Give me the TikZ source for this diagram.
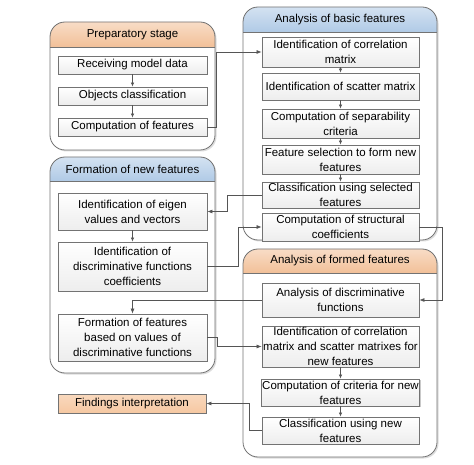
\documentclass[tikz,border=0pt]{standalone}
\usepackage{fontspec}
\setmainfont{Liberation Sans}
\usetikzlibrary{arrows.meta,shadows}

\definecolor{hdrorange}{RGB}{242,192,152}
\definecolor{hdrblue}{RGB}{176,202,230}
\definecolor{findfill}{RGB}{246,200,162}
\definecolor{edgecol}{RGB}{115,115,115}
\definecolor{conncol}{RGB}{85,85,85}

\tikzset{
 txt/.style={font=\fontsize{11.5}{15}\selectfont},
 box/.style={draw=edgecol, line width=0.8pt, top color=white, bottom color=gray!14,
   drop shadow={shadow xshift=1.2pt, shadow yshift=-1.2pt, fill=gray!70, opacity=0.6},
   align=center, inner sep=1pt, txt},
 lbox/.style={box, minimum width=149pt},
 rbox/.style={box, minimum width=157pt},
 hdr/.style={txt, inner sep=0pt},
 frame/.style={draw=edgecol, line width=0.8pt, rounded corners=15pt},
 inarrow/.style={draw=conncol, line width=0.7pt, -{Latex[length=4pt,width=3.5pt]}},
 conn/.style={draw=conncol, line width=0.7pt, -{Latex[length=5pt,width=4pt]}},
}

\newcommand{\stagebox}[6]{%
 \fill[gray!60, opacity=0.45, rounded corners=15pt] ([xshift=1.5pt,yshift=-1.5pt]#1,#2) rectangle ([xshift=1.5pt,yshift=-1.5pt]#3,#4);
 \fill[white, rounded corners=15pt] (#1,#2) rectangle (#3,#4);
 \begin{scope}
  \clip[rounded corners=15pt] (#1,#2) rectangle (#3,#4);
  \fill[top color=#6!55!white, bottom color=#6] (#1,#2) rectangle (#3,#5);
 \end{scope}
 \draw[frame] (#1,#2) rectangle (#3,#4);
 \draw[draw=edgecol, line width=0.8pt] (#1,#5) -- (#3,#5);
}

\begin{document}
\begin{tikzpicture}[x=1pt,y=-1pt]
\useasboundingbox (0,0) rectangle (474,465);

% containers
\stagebox{50}{22}{215}{150}{47}{hdrorange}
\stagebox{243}{7}{437}{240}{32}{hdrblue}
\stagebox{50}{157}{215}{373}{181}{hdrblue}
\stagebox{243}{249}{437}{457}{273}{hdrorange}

% headers
\node[hdr] (hPrep) at (132.5,35) {Preparatory stage};
\node[hdr] (hBasic) at (340,20) {Analysis of basic features};
\node[hdr] (hForm) at (132.5,169) {Formation of new features};
\node[hdr] (hFormed) at (340,261) {Analysis of formed features};

% preparatory stage
\node[lbox, minimum height=18pt] (p1) at (132.5,65) {Receiving model data};
\node[lbox, minimum height=18pt] (p2) at (132.5,96) {Objects classification};
\node[lbox, minimum height=18pt] (p3) at (132.5,127) {Computation of features};

% analysis of basic features
\node[rbox, minimum height=30pt] (a1) at (340.5,52) {Identification of correlation\\matrix};
\node[rbox, minimum height=27pt] (a2) at (340.5,86.5) {Identification of scatter matrix};
\node[rbox, minimum height=29pt] (a3) at (340.5,123.5) {Computation of separability\\criteria};
\node[rbox, minimum height=29pt] (a4) at (340.5,159.5) {Feature selection to form new\\features};
\node[rbox, minimum height=26pt] (a5) at (340.5,195) {Classification using selected\\features};
\node[rbox, minimum height=28pt] (a6) at (340.5,227) {Computation of structural\\coefficients};

% formation of new features
\node[lbox, minimum height=37pt] (f1) at (132.5,211.5) {Identification of eigen\\values and vectors};
\node[lbox, minimum height=49pt] (f2) at (132.5,266.5) {Identification of\\discriminative functions\\coefficients};
\node[lbox, minimum height=47pt] (f3) at (132.5,337.5) {Formation of features\\based on values of\\discriminative functions};

% analysis of formed features
\node[rbox, minimum height=34pt] (b1) at (340.5,300) {Analysis of discriminative\\functions};
\node[rbox, minimum height=41pt] (b2) at (340.5,346.5) {Identification of correlation\\matrix and scatter matrixes for\\new features};
\node[rbox, minimum height=27pt] (b3) at (340.5,392.5) {Computation of criteria for new\\features};
\node[rbox, minimum height=27pt] (b4) at (340.5,430.5) {Classification using new\\features};

% findings
\node[box, top color=findfill!70!white, bottom color=findfill, minimum width=148pt, minimum height=19pt] (fi) at (132,403.5) {Findings interpretation};

% arrows inside stages
\draw[inarrow] (p1.south) -- (p2.north);
\draw[inarrow] (p2.south) -- (p3.north);
\draw[inarrow] (a1.south) -- (a2.north);
\draw[inarrow] (a2.south) -- (a3.north);
\draw[inarrow] (a3.south) -- (a4.north);
\draw[inarrow] (a4.south) -- (a5.north);
\draw[inarrow] (f1.south) -- (f2.north);
\draw[inarrow] (b2.south) -- (b3.north);
\draw[inarrow] (b3.south) -- (b4.north);

% connectors between stages
\draw[conn] (p3.east) -- ++(9,0) |- (a1.west);
\draw[conn] (a5.west) -- ++(-34,0) |- (f1.east);
\draw[conn] (f2.east) -- ++(31,0) |- (a6.west);
\draw[conn] (a6.east) -- ++(23,0) |- (b1.east);
\draw[conn] (b1.west) -| (f3.north);
\draw[conn] (f3.east) -- ++(10,0) |- (b2.west);
\draw[conn] (b4.west) -- ++(-12,0) |- (fi.east);
\end{tikzpicture}
\end{document}
